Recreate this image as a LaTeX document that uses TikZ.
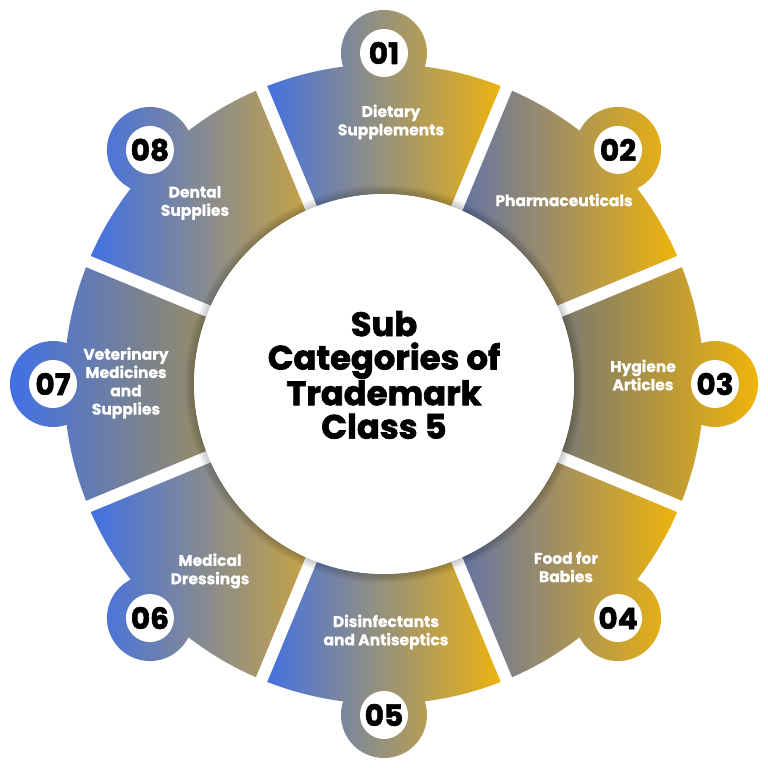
\documentclass[tikz,border=0pt]{standalone}
\usepackage{fontspec}
\setmainfont{Poppins}
\newfontfamily\heavyfont{Poppins}[UprightFont = * Bold, FakeBold = 2]
\newfontfamily\labelfont{Poppins}[UprightFont = * Bold, FakeBold = 0.8]
\definecolor{segblue}{RGB}{64,112,230}
\definecolor{seggold}{RGB}{240,180,10}
\definecolor{segslate}{RGB}{98,114,168}
\definecolor{seggray}{RGB}{122,122,112}
\definecolor{segkhaki}{RGB}{200,164,66}
\definecolor{segdrab}{RGB}{152,140,100}
\begin{document}
\begin{tikzpicture}[x = 0.025cm, y = 0.025cm,
    seglabel/.style = {text = white, align = center,
                       font = \labelfont\fontsize{11}{13}\selectfont},
    numdisc/.style = {circle, fill = white, inner sep = 0pt,
                      minimum size = 1.2cm,
                      font = \heavyfont\fontsize{21}{21}\selectfont}]
  \useasboundingbox (-384,-384) rectangle (384,384);
  % ring segments with their tabs
  \foreach \ang/\lc/\rc/\num in {90/segblue/seggold/01, 45/segslate/seggold/02,
      0/seggray/seggold/03, -45/segslate/seggold/04, -90/segblue/seggold/05,
      -135/segblue/segkhaki/06, 180/segblue/segdrab/07, 135/segblue/segkhaki/08}
  {
    \pgfmathsetmacro\lo{\ang - 22.5}
    \pgfmathsetmacro\hi{\ang + 22.5}
    \path [left color = \lc, right color = \rc]
      (\lo:320) arc [start angle = \lo, end angle = \hi, radius = 320]
      -- (\hi:190) arc [start angle = \hi, end angle = \lo, radius = 190] -- cycle
      (\ang:331) circle [radius = 43];
  }
  \foreach \g in {22.5, 67.5, ..., 337.5}
    \draw [white, line width = 0.3cm] (0,0) -- (\g:345);
  % soft shadow round the centre disc
  \foreach \i in {1, ..., 10}
    \fill [black, opacity = .025] (0,0) circle [radius = 189 + \i];
  \fill [white] (0,0) circle [radius = 190];
  \foreach \ang/\num in {90/01, 45/02, 0/03, -45/04, -90/05, -135/06, 180/07, 135/08}
    \node [numdisc] (num\num) at (\ang:331) {\num};
  \node [align = center, font = \heavyfont\fontsize{24}{23.8}\selectfont]
    (title) at (0,9) {Sub\\Categories of\\Trademark\\Class 5};
  \node [seglabel] (lab01) at (7,262) {Dietary\\Supplements};
  \node [seglabel] (lab02) at (180,184) {Pharmaceuticals};
  \node [seglabel] (lab03) at (259,9) {Hygiene\\Articles};
  \node [seglabel] (lab04) at (182,-183) {Food for\\Babies};
  \node [seglabel] (lab05) at (2,-248) {Disinfectants\\and Antiseptics};
  \node [seglabel] (lab06) at (-174,-187) {Medical\\Dressings};
  \node [seglabel] (lab07) at (-258,1) {Veterinary\\Medicines\\and\\Supplies};
  \node [seglabel] (lab08) at (-189,181) {Dental\\Supplies};
\end{tikzpicture}
\end{document}
